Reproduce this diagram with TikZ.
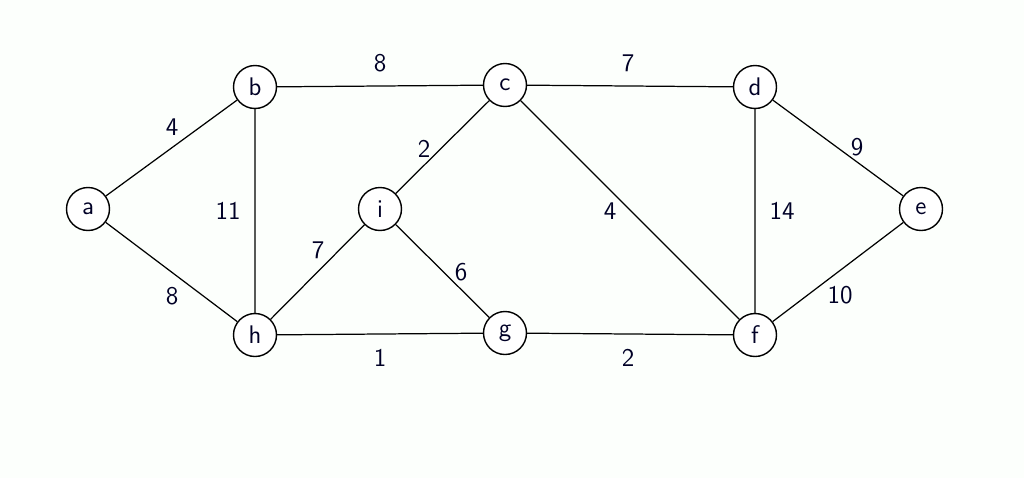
\documentclass[tikz,border=0pt]{standalone}
\begin{document}
\begin{tikzpicture}[x=0.02cm,y=-0.02cm,
  vtx/.style={circle,draw,line width=0.8pt,minimum size=0.86cm,inner sep=0pt,font=\sffamily\fontsize{14.5}{17}\selectfont,text=black!85!blue},
  wt/.style={font=\sffamily\fontsize{14.5}{17}\selectfont,text=black!85!blue},
  edge/.style={line width=0.7pt}]
\fill[black!2!green!1!white] (0,0) rectangle (1024,478);
\useasboundingbox (0,0) rectangle (1024,478);
\node[vtx,fill=white] (a) at (88,209) {a};
\node[vtx,fill=white] (b) at (255,87) {b};
\node[vtx,fill=white] (c) at (505,85) {c};
\node[vtx,fill=white] (d) at (755,87) {d};
\node[vtx,fill=white] (e) at (921,209) {e};
\node[vtx,fill=white] (i) at (380,209) {i};
\node[vtx,fill=white] (h) at (255,335) {h};
\node[vtx,fill=white] (g) at (505,333) {g};
\node[vtx,fill=white] (f) at (755,335) {f};
\draw[edge] (a)--(b) (a)--(h) (b)--(c) (b)--(h) (c)--(i) (h)--(i) (i)--(g) (h)--(g)
  (c)--(d) (c)--(f) (d)--(f) (d)--(e) (e)--(f) (g)--(f);
\node[wt] (l1) at (172,127) {4};
\node[wt] (l2) at (172,296) {8};
\node[wt] (l3) at (380,63) {8};
\node[wt] (l4) at (228,211) {11};
\node[wt] (l5) at (424,149) {2};
\node[wt] (l6) at (318,250) {7};
\node[wt] (l7) at (461,272) {6};
\node[wt] (l8) at (380,358) {1};
\node[wt] (l9) at (628,63) {7};
\node[wt] (l10) at (610,211) {4};
\node[wt] (l11) at (782,211) {14};
\node[wt] (l12) at (857,147) {9};
\node[wt] (l13) at (840,295) {10};
\node[wt] (l14) at (628,358) {2};
\end{tikzpicture}
\end{document}
